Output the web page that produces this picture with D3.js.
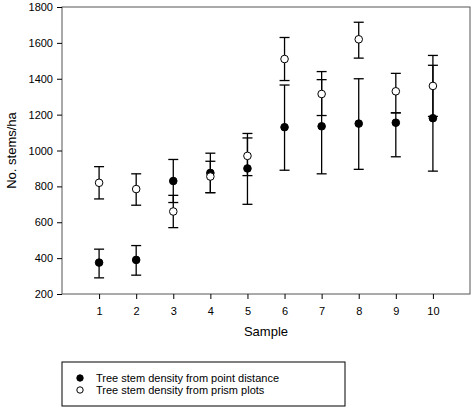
<!DOCTYPE html><html><head><script src="https://cdn.jsdelivr.net/npm/d3@7"></script>
<style>body{margin:0;background:#fff}text{font-family:Arial,"Liberation Sans",sans-serif}</style></head><body><svg id="c" width="474" height="410"></svg>
<script>
const samples=[1,2,3,4,5,6,7,8,9,10];
const pointMean=[375,390,830,875,900,1130,1135,1150,1155,1180];
const pointLo=[290,305,710,765,700,890,870,895,965,885];
const pointHi=[450,470,950,985,1070,1365,1395,1400,1210,1475];
const prismMean=[820,785,660,855,970,1510,1315,1620,1330,1360];
const prismLo=[730,695,570,765,860,1390,1195,1515,1210,1190];
const prismHi=[910,870,750,940,1095,1630,1440,1715,1430,1530];
const yTicks=[200,400,600,800,1000,1200,1400,1600,1800];
const svg=d3.select("#c");
const L=62,R=470,T=7,B=294;
const x=d3.scaleLinear().domain([0,11]).range([L,R]);
const y=d3.scaleLinear().domain([200,1800]).range([B,T]);
svg.append("rect").attr("x",L).attr("y",T).attr("width",R-L).attr("height",B-T).attr("fill","none").attr("stroke","#555");
svg.append("g").attr("transform",`translate(0,${B})`).call(d3.axisBottom(x).tickValues(samples).tickSize(5).tickPadding(8)).call(g=>{g.select(".domain").remove();g.selectAll("text").attr("font-size",11).attr("fill","#000")});
svg.append("g").attr("transform",`translate(${L},0)`).call(d3.axisLeft(y).tickValues(yTicks).tickFormat(d3.format("d")).tickSize(5).tickPadding(4)).call(g=>{g.select(".domain").remove();g.selectAll("text").attr("font-size",11).attr("fill","#000")});
function series(m,lo,hi,fill){
 const g=svg.append("g");
 samples.forEach((s,i)=>{
  const cx=x(s);
  g.append("line").attr("x1",cx).attr("x2",cx).attr("y1",y(lo[i])).attr("y2",y(hi[i])).attr("stroke","#000").attr("stroke-width",1.3);
  [lo[i],hi[i]].forEach(v=>g.append("line").attr("x1",cx-5).attr("x2",cx+5).attr("y1",y(v)).attr("y2",y(v)).attr("stroke","#000").attr("stroke-width",1.3));
 });
 samples.forEach((s,i)=>g.append("circle").attr("cx",x(s)).attr("cy",y(m[i])).attr("r",3.8).attr("fill",fill).attr("stroke","#000"));
}
series(pointMean,pointLo,pointHi,"#000");
series(prismMean,prismLo,prismHi,"#fff");
svg.append("text").attr("x",(L+R)/2).attr("y",336).attr("text-anchor","middle").attr("font-size",13).text("Sample");
svg.append("text").attr("transform",`translate(16,${(T+B)/2}) rotate(-90)`).attr("text-anchor","middle").attr("font-size",13).text("No. stems/ha");
const lg=svg.append("g");
lg.append("rect").attr("x",62).attr("y",362).attr("width",283).attr("height",44).attr("fill","#fff").attr("stroke","#000");
[["Tree stem density from point distance","#000"],["Tree stem density from prism plots","#fff"]].forEach((d,i)=>{
 lg.append("circle").attr("cx",80).attr("cy",378+i*12).attr("r",3.2).attr("fill",d[1]).attr("stroke","#000");
 lg.append("text").attr("x",96).attr("y",382+i*12).attr("font-size",11).text(d[0]);
});
</script></body></html>
